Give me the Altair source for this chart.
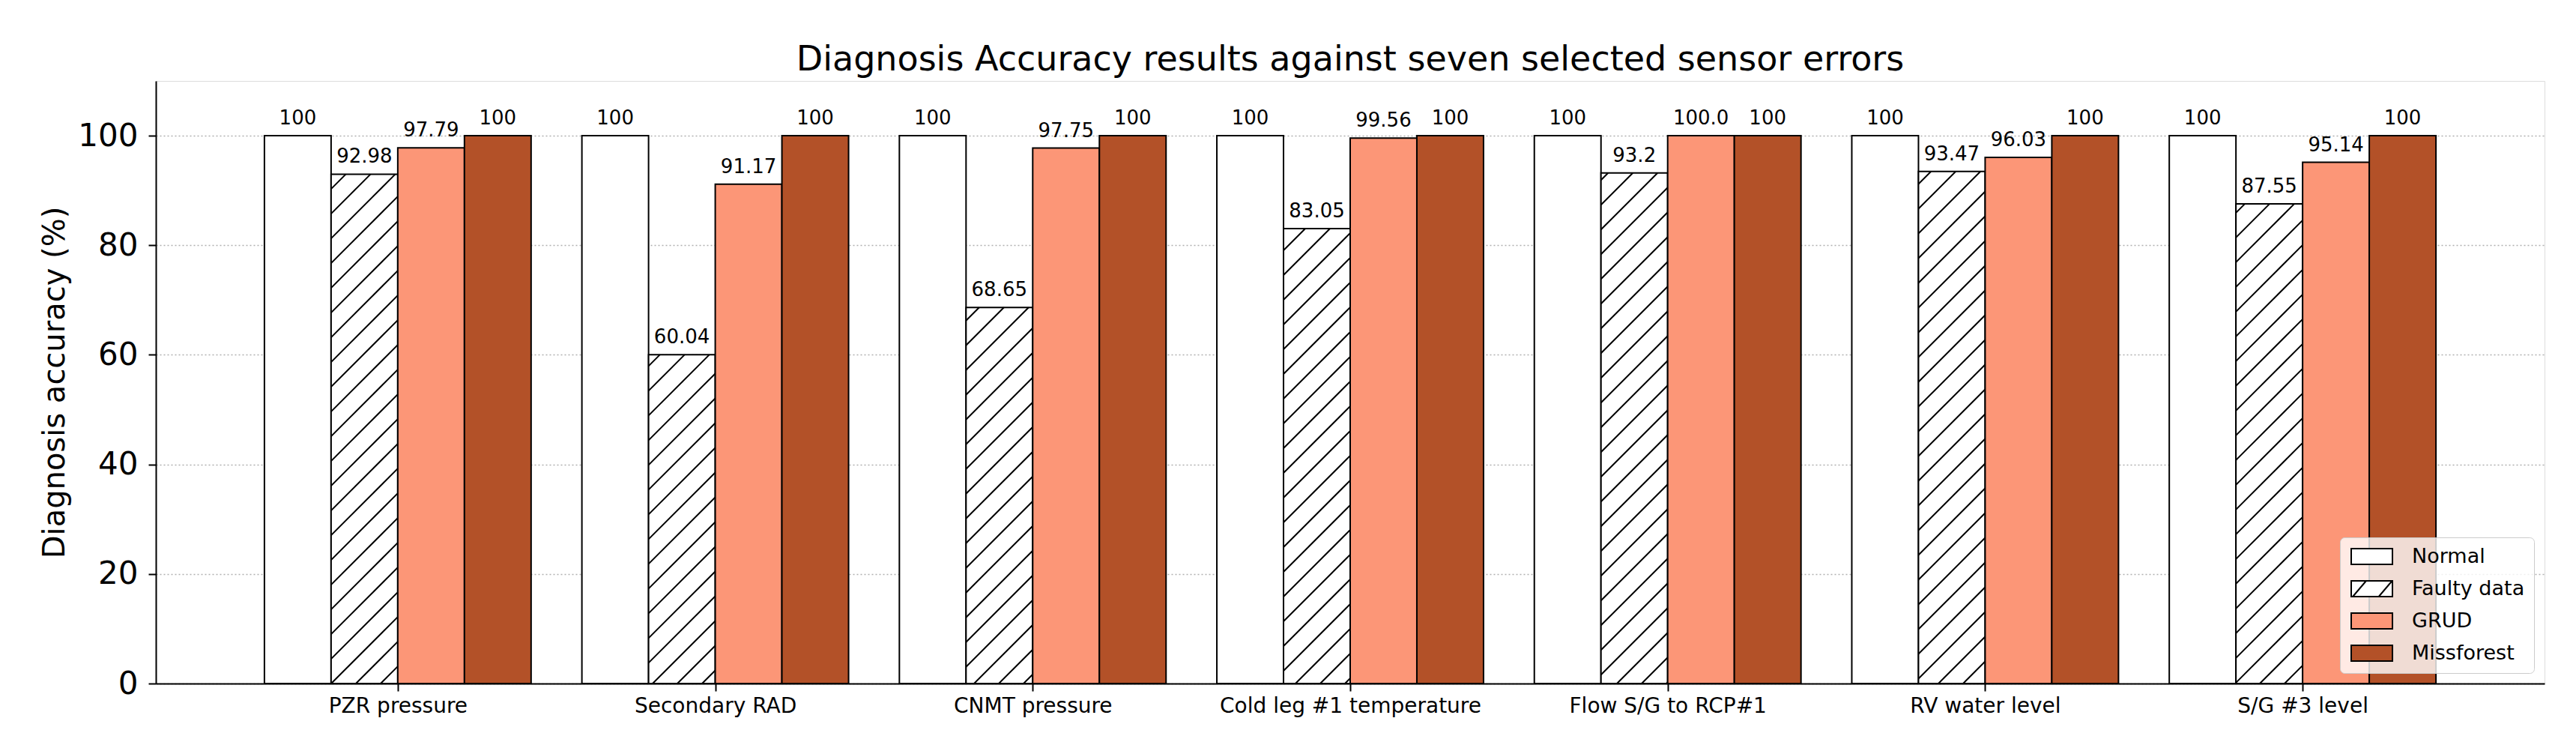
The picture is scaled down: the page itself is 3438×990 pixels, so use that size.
import json
import math
import altair as alt
import pandas as pd

# ---------------- data ----------------
categories = ["PZR pressure", "Secondary RAD", "CNMT pressure", "Cold leg #1 temperature",
              "Flow S/G to RCP#1", "RV water level", "S/G #3 level"]
series = ["Normal", "Faulty data", "GRUD", "Missforest"]
normal = [100, 100, 100, 100, 100, 100, 100]
faulty = [92.98, 60.04, 68.65, 83.05, 93.2, 93.47, 87.55]
grud = [97.79, 91.17, 97.75, 99.56, 100.0, 96.03, 95.14]
missforest = [100, 100, 100, 100, 100, 100, 100]
y_ticks = [0, 20, 40, 60, 80, 100]
title_text = "Diagnosis Accuracy results against seven selected sensor errors"
y_title = "Diagnosis accuracy (%)"

# ---------------- style ----------------
colors = ["#ffffff", "#ffffff", "#fc9677", "#b35128"]
edge_colors = ["#000000", "#000000", "#000000", "#000000"]
FONT = "DejaVu Sans"
W, H = 3188, 804
X_DOMAIN = [-0.762, 6.762]
Y_DOMAIN = [0, 110]
BAR_W = 0.21
HATCH_STEP = 33.0   # px between hatch lines (horizontal)
HATCH_PHASE = 15.0
rect_path = "M-1,-1L4.24,-1L4.24,1L-1,1Z"
hatch_path = rect_path + "M-0.8,1L0.9,-1M2.5,1L4.2,-1"
shape_paths = [rect_path, hatch_path, rect_path, rect_path]

# ---------------- tables ----------------
rows = []
for j, (name, vals) in enumerate(zip(series, [normal, faulty, grud, missforest])):
    for i, v in enumerate(vals):
        x0 = i + (j - 2) * BAR_W
        rows.append(dict(category=categories[i], series=name, x0=x0, x1=x0 + BAR_W,
                         xc=x0 + BAR_W / 2, value=float(v), label=str(v)))
df = pd.DataFrame(rows)

sx = W / (X_DOMAIN[1] - X_DOMAIN[0])
sy = H / (Y_DOMAIN[1] - Y_DOMAIN[0])
hatch = []
for r in rows:
    if r["series"] != "Faulty data":
        continue
    L = (r["x0"] - X_DOMAIN[0]) * sx
    R = (r["x1"] - X_DOMAIN[0]) * sx
    T = (Y_DOMAIN[1] - r["value"]) * sy
    B = H
    k0 = math.ceil((L + T - HATCH_PHASE) / HATCH_STEP)
    k1 = math.floor((R + B - HATCH_PHASE) / HATCH_STEP)
    for k in range(k0, k1 + 1):
        c = HATCH_PHASE + k * HATCH_STEP
        xa = max(L, c - B)
        xb = min(R, c - T)
        if xb - xa > 0.5:
            hatch.append(dict(hx=X_DOMAIN[0] + xa / sx, hy=Y_DOMAIN[1] - (c - xa) / sy,
                              hx2=X_DOMAIN[0] + xb / sx, hy2=Y_DOMAIN[1] - (c - xb) / sy))
hdf = pd.DataFrame(hatch)

label_expr = json.dumps(categories) + "[datum.value]"

xscale = alt.Scale(domain=X_DOMAIN, nice=False, zero=False)
yscale = alt.Scale(domain=Y_DOMAIN, nice=False, zero=False)

x_axis = alt.Axis(values=list(range(len(categories))), labelExpr=label_expr, title=None,
                  grid=False, labelFontSize=28, labelFont=FONT, labelColor="black",
                  tickSize=10, tickWidth=2, tickColor="black", labelPadding=6,
                  domainColor="black", domainWidth=2, labelFlush=False,
                  labelOverlap=False, labelBound=False, labelLimit=2000)
y_axis = alt.Axis(values=y_ticks, title=y_title, titleFontSize=40, titleFont=FONT,
                  titleFontWeight="normal", titleColor="black", titleX=-135, titleY=H / 2,
                  titleAlign="center", titleBaseline="middle",
                  labelFontSize=42, labelFont=FONT, labelColor="black", labelPadding=14,
                  grid=True, gridDash=[2, 3], gridColor="#b0b0b0", gridWidth=1.5,
                  tickSize=10, tickWidth=2, tickColor="black",
                  domainColor="black", domainWidth=2)

legend = alt.Legend(title=None, orient="bottom-right", offset=14,
                    labelFontSize=27, labelFont=FONT, labelColor="black",
                    symbolSize=441, symbolStrokeWidth=2,
                    symbolOpacity=1, labelOffset=57, rowPadding=14, padding=12,
                    fillColor="rgba(255,255,255,0.8)", strokeColor="#cccccc",
                    cornerRadius=6, labelLimit=400)

base = alt.Chart(df)

legend_pts = base.mark_point(filled=True, opacity=0, strokeWidth=2).encode(
    x=alt.X("xc:Q", scale=xscale, axis=x_axis),
    y=alt.Y("value:Q", scale=yscale, axis=y_axis),
    fill=alt.Fill("series:N", scale=alt.Scale(domain=series, range=colors), legend=legend),
    stroke=alt.Stroke("series:N", scale=alt.Scale(domain=series, range=edge_colors), legend=legend),
    shape=alt.Shape("series:N", scale=alt.Scale(domain=series, range=shape_paths), legend=legend),
)

bars = base.mark_rect(stroke="black", strokeWidth=2).encode(
    x=alt.X("x0:Q", scale=xscale),
    x2="x1:Q",
    y=alt.Y("value:Q", scale=yscale),
    y2=alt.datum(0),
    color=alt.Color("series:N", scale=alt.Scale(domain=series, range=colors), legend=None),
)

hatch_lines = alt.Chart(hdf).mark_rule(color="black", strokeWidth=2).encode(
    x=alt.X("hx:Q", scale=xscale),
    y=alt.Y("hy:Q", scale=yscale),
    x2="hx2:Q",
    y2="hy2:Q",
)

labels = base.mark_text(fontSize=26, font=FONT, dy=-15, baseline="alphabetic",
                        align="center", color="black").encode(
    x=alt.X("xc:Q", scale=xscale),
    y=alt.Y("value:Q", scale=yscale),
    text="label:N",
)

chart = alt.layer(legend_pts, bars, hatch_lines, labels).properties(
    width=W, height=H,
    title=alt.TitleParams(title_text, fontSize=46, font=FONT, fontWeight="normal",
                          color="black", anchor="middle", offset=4),
    autosize=alt.AutoSizeParams(type="none"),
    padding={"left": 200, "top": 100, "right": 34, "bottom": 70},
).configure_view(stroke="black", strokeWidth=2).configure(background="white")

chart.save("out.html", embed_options={"renderer": "svg", "actions": False})
